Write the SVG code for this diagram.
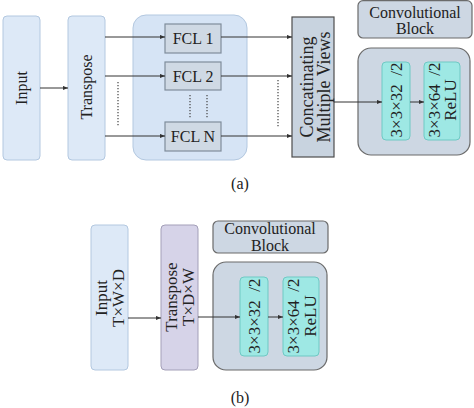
<svg xmlns="http://www.w3.org/2000/svg" width="474" height="408" viewBox="0 0 474 408" font-family="'Liberation Serif', 'Times New Roman', serif">
<defs>
<marker id="ah" viewBox="0 0 6 6" refX="6" refY="3" markerWidth="5" markerHeight="5" orient="auto" markerUnits="userSpaceOnUse">
<path d="M0,0.5 L6,3 L0,5.5 Z" fill="#333"/>
</marker>
<style>
text{fill:#222;text-anchor:middle;font-family:'Liberation Serif','Times New Roman',serif}
.t16{font-size:16px}
.t17{font-size:17px}
.t18{font-size:18px}
.lb{fill:#dde9f7;stroke:#b3c8e0;stroke-width:1}
.ct{fill:#d6e4f5;stroke:#b3c8e0;stroke-width:1}
.fcl{fill:#cfd9e4;stroke:#7f8d9b;stroke-width:1.2}
.cat{fill:#c8d3df;stroke:#4d4d4d;stroke-width:1.2}
.cb{fill:#cdd7e3;stroke:#6b6b6b;stroke-width:1.2}
.cy{fill:#9ee8e4;stroke:#6fc9c4;stroke-width:1}
.pu{fill:#d6d3e8;stroke:#a39fb8;stroke-width:1}
.ar{stroke:#333;stroke-width:1;fill:none;marker-end:url(#ah)}
.dt{stroke:#444;stroke-width:1.2;stroke-dasharray:1.2 1.8;fill:none}
</style>
</defs>

<!-- (a) -->
<g id="a-input">
<rect class="lb" x="3" y="16" width="37" height="144" rx="4"/>
<text class="t16" transform="translate(21.5,88) rotate(-90)" dy="5.5">Input</text>
</g>
<g id="a-transpose">
<rect class="lb" x="68" y="16" width="37" height="144" rx="4"/>
<text class="t16" transform="translate(86.5,87) rotate(-90)" dy="5.5">Transpose</text>
</g>
<g id="a-fcl-container">
<rect class="ct" x="133" y="15" width="114" height="145" rx="13"/>
</g>
<g id="a-fcl1">
<rect class="fcl" x="165" y="24" width="56" height="29"/>
<text class="t16" x="193" y="44">FCL 1</text>
</g>
<g id="a-fcl2">
<rect class="fcl" x="165" y="62" width="56" height="28"/>
<text class="t16" x="193" y="82">FCL 2</text>
</g>
<g id="a-fcln">
<rect class="fcl" x="165" y="122" width="56" height="29"/>
<text class="t16" x="193" y="142">FCL N</text>
</g>
<g id="a-concat">
<rect class="cat" x="292" y="17" width="42" height="140"/>
<text class="t18" transform="translate(306.5,87) rotate(-90)" dy="6">Concatinating</text>
<text class="t18" transform="translate(324,87) rotate(-90)" dy="6">Multiple Views</text>
</g>
<g id="a-convlabel">
<rect class="cb" x="358" y="0.6" width="114" height="37.4" rx="5"/>
<text class="t16" x="415" y="18">Convolutional</text>
<text class="t16" x="415" y="34">Block</text>
</g>
<g id="a-convblock">
<rect class="cb" x="358" y="48" width="112" height="107" rx="13"/>
</g>
<g id="a-conv1">
<rect class="cy" x="382" y="62" width="28" height="78" rx="4"/>
<text class="t17" transform="translate(396,100) rotate(-90)" dy="5.8" xml:space="preserve">3×3×32  /2</text>
</g>
<g id="a-conv2">
<rect class="cy" x="424" y="62" width="36" height="78" rx="4"/>
<text class="t17" transform="translate(434,100) rotate(-90)" dy="5.8" xml:space="preserve">3×3×64  /2</text>
<text class="t17" transform="translate(450,100) rotate(-90)" dy="5.8">ReLU</text>
</g>
<g id="a-connectors">
<line class="ar" x1="40" y1="88" x2="68" y2="88"/>
<line class="ar" x1="105" y1="37" x2="165" y2="37"/>
<line class="ar" x1="105" y1="76" x2="165" y2="76"/>
<line class="ar" x1="105" y1="136" x2="165" y2="136"/>
<line class="ar" x1="221" y1="37" x2="292" y2="37"/>
<line class="ar" x1="221" y1="76" x2="292" y2="76"/>
<line class="ar" x1="221" y1="136" x2="292" y2="136"/>
<line class="ar" x1="334" y1="102" x2="382" y2="102"/>
<line class="ar" x1="410" y1="102" x2="424" y2="102"/>
<line class="dt" x1="118" y1="82" x2="118" y2="127"/>
<line class="dt" x1="190" y1="95" x2="190" y2="118"/>
<line class="dt" x1="207" y1="95" x2="207" y2="118"/>
<line class="dt" x1="278" y1="80" x2="278" y2="127"/>
</g>
<text class="t16" x="240" y="189">(a)</text>

<!-- (b) -->
<g id="b-input">
<rect class="lb" x="91" y="225" width="37" height="145" rx="4"/>
<text class="t17" transform="translate(101,298) rotate(-90)" dy="5.8">Input</text>
<text class="t17" transform="translate(118,298) rotate(-90)" dy="5.8">T×W×D</text>
</g>
<g id="b-transpose">
<rect class="pu" x="161" y="225" width="37" height="145" rx="4"/>
<text class="t17" transform="translate(171,297) rotate(-90)" dy="5.8">Transpose</text>
<text class="t17" transform="translate(188,297) rotate(-90)" dy="5.8">T×D×W</text>
</g>
<g id="b-convlabel">
<rect class="cb" x="213" y="221" width="115" height="32" rx="5"/>
<text class="t16" x="270" y="234">Convolutional</text>
<text class="t16" x="270" y="251">Block</text>
</g>
<g id="b-convblock">
<rect class="cb" x="213" y="262" width="114" height="108" rx="13"/>
</g>
<g id="b-conv1">
<rect class="cy" x="240" y="277" width="28" height="79" rx="4"/>
<text class="t17" transform="translate(254,316) rotate(-90)" dy="5.8" xml:space="preserve">3×3×32  /2</text>
</g>
<g id="b-conv2">
<rect class="cy" x="283" y="277" width="36" height="79" rx="4"/>
<text class="t17" transform="translate(293,316) rotate(-90)" dy="5.8" xml:space="preserve">3×3×64  /2</text>
<text class="t17" transform="translate(310,316) rotate(-90)" dy="5.8">ReLU</text>
</g>
<g id="b-connectors">
<line class="ar" x1="128" y1="318" x2="161" y2="318"/>
<line class="ar" x1="198" y1="317" x2="240" y2="317"/>
<line class="ar" x1="268" y1="317" x2="283" y2="317"/>
</g>
<text class="t16" x="240" y="403">(b)</text>
</svg>
